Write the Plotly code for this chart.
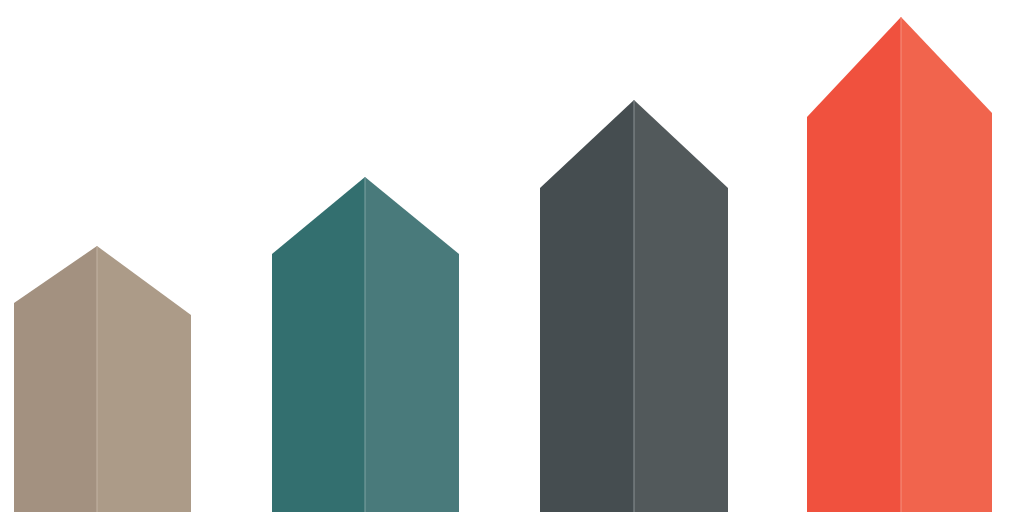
import plotly.graph_objects as go

# Data: arrow heights (tip) and the shoulder heights on each side
arrows = ["Step 1", "Step 2", "Step 3", "Step 4"]
tip_height = [266, 335, 412, 495]
left_shoulder = [209, 258, 324, 395]
right_shoulder = [197, 258, 324, 399]

# Layout: horizontal placement of each arrow (left edge, centre, right edge)
left_x = [14, 272, 540, 807]
centre_x = [97, 365, 634, 901]
right_x = [191, 459, 728, 992]

# Styles
left_colors = ["#A39180", "#336F6F", "#454D50", "#F0513E"]
right_colors = ["#AC9B88", "#497A7B", "#52595B", "#F1644D"]
seam_colors = ["#C2B3A3", "#7FA3A3", "#8A9294", "#F6907E"]

fig = go.Figure()

for i, name in enumerate(arrows):
    # left face
    fig.add_trace(go.Scatter(
        x=[left_x[i], left_x[i], centre_x[i], centre_x[i], left_x[i]],
        y=[0, left_shoulder[i], tip_height[i], 0, 0],
        fill='toself', fillcolor=left_colors[i], mode='lines',
        line=dict(width=0, color=left_colors[i]), name=name, hoverinfo='skip'))
    # right face
    fig.add_trace(go.Scatter(
        x=[centre_x[i], centre_x[i], right_x[i], right_x[i], centre_x[i]],
        y=[0, tip_height[i], right_shoulder[i], 0, 0],
        fill='toself', fillcolor=right_colors[i], mode='lines',
        line=dict(width=0, color=right_colors[i]), name=name, hoverinfo='skip'))
    # thin seam down the middle
    fig.add_trace(go.Scatter(
        x=[centre_x[i], centre_x[i]], y=[0, tip_height[i]],
        mode='lines', line=dict(width=1, color=seam_colors[i]), hoverinfo='skip'))

fig.update_layout(
    width=1024, height=512,
    margin=dict(l=0, r=0, t=0, b=0),
    paper_bgcolor='white', plot_bgcolor='white',
    showlegend=False,
    xaxis=dict(range=[0, 1024], visible=False, fixedrange=True),
    yaxis=dict(range=[0, 512], visible=False, fixedrange=True),
)

# drop the default page margin so the chart sits flush in the window
fig.write_html("out.html", config={'displayModeBar': False},
               post_script="document.body.style.margin='0';document.body.style.overflow='hidden';")
